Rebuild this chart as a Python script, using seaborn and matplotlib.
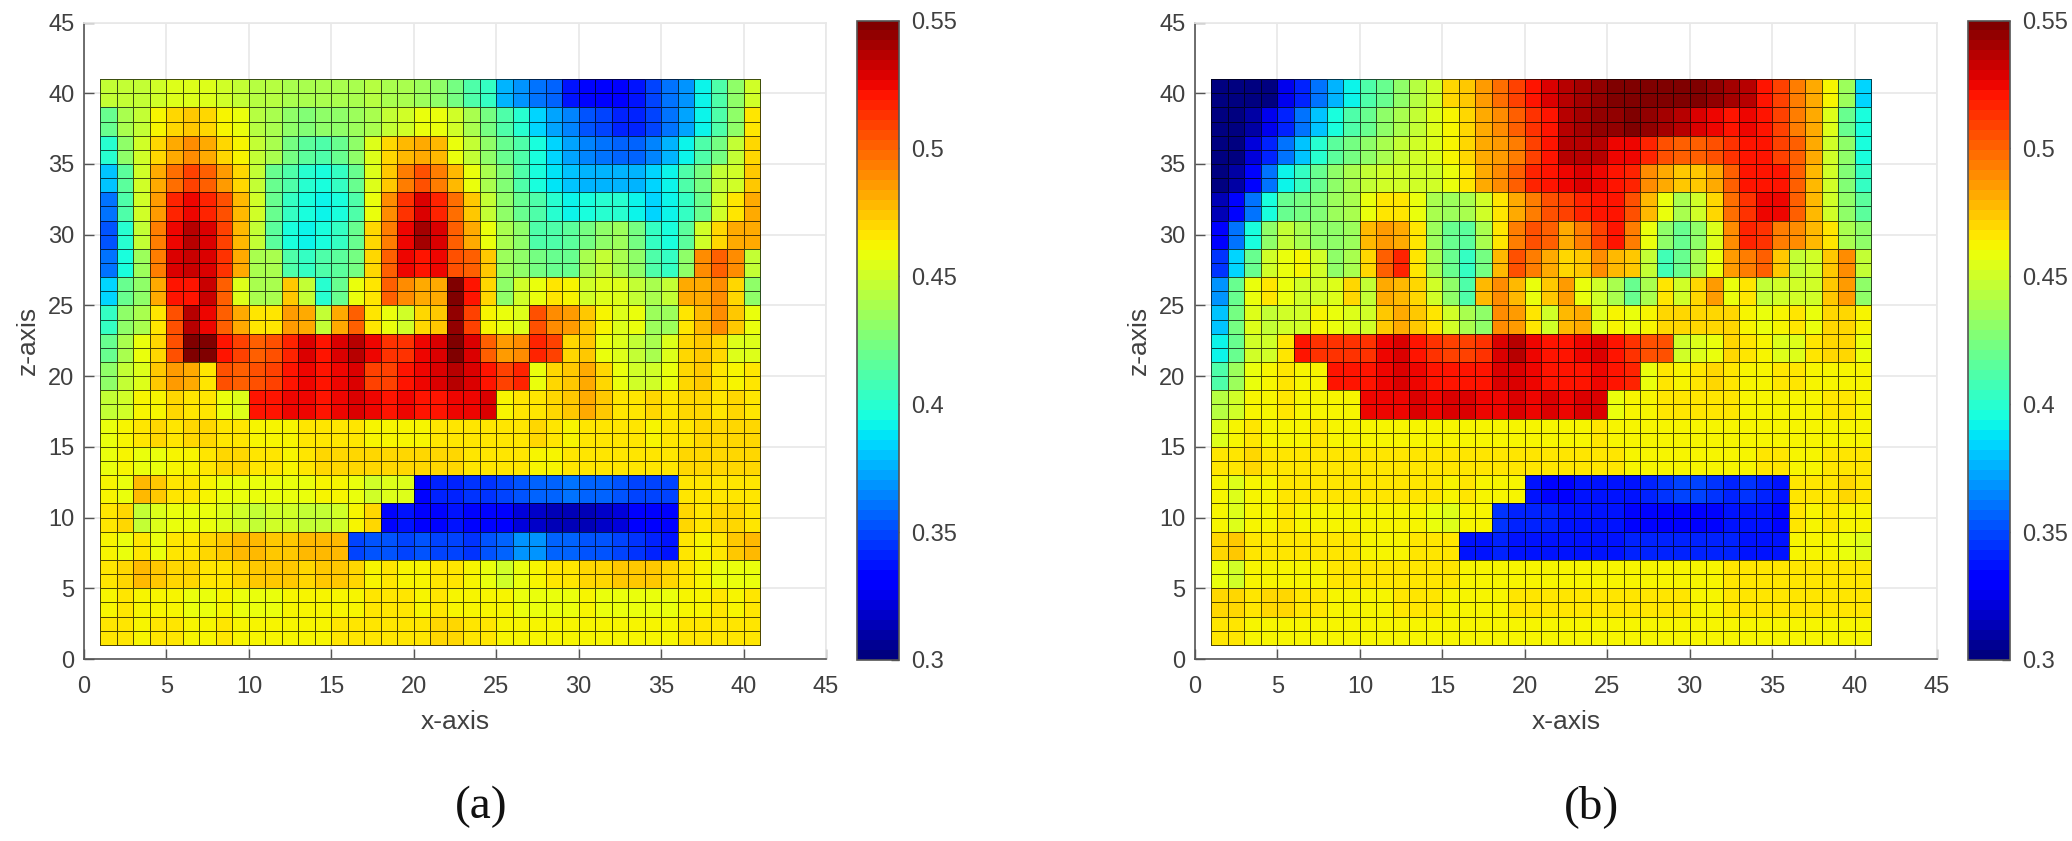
import numpy as np
import pandas as pd
import seaborn as sns
import matplotlib.pyplot as plt

# cell values in thousandths, top row first, each row covers two z steps
panel_a = [
    [445,448,448,452,453,454,453,450,448,443,442,440,437,438,438,440,441,440,440,436,430,425,412,403,378,370,362,355,339,334,331,331,339,347,362,370,390,410,430,452],
    [420,440,447,464,470,474,468,461,457,443,437,430,428,430,430,435,440,445,452,460,458,450,440,425,410,400,385,372,365,352,347,342,340,350,360,372,390,410,430,465],
    [400,430,450,470,483,490,483,468,462,448,437,425,415,410,418,432,455,468,478,480,476,460,445,430,420,410,395,385,372,365,360,358,357,365,375,390,410,425,445,468],
    [380,415,450,482,497,508,500,487,468,445,420,410,400,397,402,418,455,475,495,505,495,478,460,440,428,410,395,388,382,378,375,375,378,385,393,410,425,445,452,473],
    [360,410,450,487,517,525,518,506,478,450,420,405,397,392,395,410,458,488,513,528,516,497,475,447,430,420,410,400,393,396,400,398,392,385,392,405,420,450,465,480],
    [352,400,445,492,523,535,528,510,478,447,415,397,392,397,405,420,468,495,525,540,528,500,483,460,440,430,410,410,415,425,430,435,425,405,397,415,450,470,480,482],
    [360,395,435,493,528,534,530,514,480,440,440,410,405,410,417,425,470,500,525,522,525,507,503,473,435,430,425,420,420,440,445,440,430,410,405,430,488,503,490,445],
    [385,420,430,482,520,522,533,500,456,440,440,475,445,400,420,458,465,503,488,480,483,548,519,470,432,450,460,466,462,450,455,455,445,440,445,480,480,490,470,430],
    [405,430,440,465,505,535,525,500,480,465,465,487,480,445,480,500,465,460,452,470,475,545,510,462,458,456,505,490,485,475,462,456,460,435,435,465,478,490,472,458],
    [418,440,458,470,505,550,550,519,510,503,506,515,527,520,530,536,523,512,512,524,528,550,527,500,487,490,515,510,470,475,458,455,445,440,455,470,475,470,455,453],
    [430,445,456,472,485,480,465,506,503,506,510,519,525,519,523,527,510,510,519,523,529,538,527,520,510,515,460,470,475,480,468,458,450,452,460,470,472,465,462,465],
    [448,452,463,463,470,467,465,460,456,520,522,526,526,522,526,528,526,522,526,519,522,526,526,527,462,465,467,470,475,480,475,465,465,468,465,470,468,465,468,465],
    [458,462,467,469,467,469,468,467,465,462,461,463,465,467,466,465,464,463,462,463,465,467,467,466,465,467,468,466,463,465,466,466,465,463,465,467,468,469,468,468],
    [460,462,457,457,462,464,466,468,470,465,465,464,467,468,470,470,471,469,468,471,469,469,467,465,465,465,464,463,467,467,465,465,465,465,465,468,470,470,468,471],
    [462,458,478,475,465,465,462,458,459,460,458,457,460,463,462,460,452,453,455,335,340,342,345,345,347,352,357,358,359,357,357,352,350,347,347,465,465,467,465,465],
    [465,470,448,455,460,457,457,455,450,447,450,452,447,445,452,462,470,333,338,331,335,337,335,333,330,320,316,314,312,315,318,320,328,330,330,468,465,468,468,465],
    [462,458,465,458,465,467,470,472,478,478,472,475,477,478,476,347,352,354,350,352,348,347,345,352,358,368,368,356,358,354,352,349,345,342,338,465,463,466,472,476],
    [466,471,476,472,471,469,467,467,470,472,472,472,471,472,473,470,462,466,464,464,465,465,463,459,450,459,464,467,467,468,470,472,473,472,468,467,463,460,459,458],
    [464,465,462,462,462,458,458,462,460,458,460,461,462,462,462,463,466,465,466,464,465,462,462,461,462,460,458,460,458,462,460,458,460,458,460,462,464,465,464,465],
    [466,466,464,466,466,464,464,465,463,462,463,462,462,463,466,466,467,466,467,466,468,468,466,465,464,464,462,462,463,462,463,463,464,463,464,465,466,466,466,466],
]

panel_b = [
    [300,300,300,303,325,340,360,375,392,410,420,430,443,452,468,475,485,497,510,520,530,537,540,545,548,550,550,550,550,550,545,542,535,522,510,495,480,464,435,385],
    [300,302,310,325,340,360,380,395,410,420,430,440,445,455,462,470,480,490,500,512,522,535,540,545,545,548,545,540,535,530,525,522,525,520,510,495,480,455,420,395],
    [300,303,320,340,360,380,398,415,425,430,437,445,450,455,462,470,480,487,495,510,520,535,537,538,525,525,515,507,500,503,507,512,519,519,510,500,480,450,430,395],
    [300,310,335,360,390,405,420,430,440,445,450,450,450,452,460,465,480,490,500,515,520,525,530,525,520,515,488,480,472,475,483,500,519,522,519,503,478,452,428,405],
    [315,335,360,395,420,425,428,435,440,460,467,465,460,440,435,437,450,465,482,495,505,510,515,520,520,505,478,457,440,450,470,497,512,523,523,503,478,452,430,415],
    [330,360,395,430,445,440,432,430,435,477,487,480,467,435,420,415,440,465,495,505,500,482,495,510,520,495,460,432,418,430,456,488,518,512,495,488,478,466,440,430],
    [345,385,420,450,458,462,450,430,440,470,500,515,465,440,420,405,422,478,505,495,480,470,475,490,478,475,445,408,420,440,457,487,495,503,475,447,450,475,488,447],
    [370,420,460,465,457,452,450,455,470,448,480,477,470,450,430,410,478,490,478,457,475,485,460,450,440,420,440,465,450,470,485,457,465,448,450,450,452,475,485,430],
    [380,425,456,445,450,452,462,458,453,450,472,480,472,465,450,440,430,488,486,465,450,478,482,456,462,458,462,468,468,470,470,470,462,460,462,465,460,470,470,462],
    [393,420,450,450,467,519,514,514,514,514,525,528,522,514,510,510,514,530,536,526,520,519,526,530,522,514,506,506,450,455,460,468,467,462,455,455,465,470,470,458],
    [410,435,457,463,466,462,463,519,519,520,524,528,524,520,520,520,522,527,528,526,522,520,522,524,520,518,460,466,464,467,470,467,463,462,465,465,463,463,463,463],
    [442,452,463,464,466,464,463,462,463,525,526,526,527,525,527,527,526,526,527,526,527,526,527,527,460,462,463,465,466,466,466,465,464,464,463,463,464,465,465,464],
    [456,461,466,464,464,464,466,464,462,463,462,462,463,463,462,464,464,464,463,463,463,463,464,466,464,462,462,462,463,463,463,462,463,463,464,463,463,464,463,462],
    [465,466,468,467,467,467,467,467,466,465,466,466,467,466,466,467,467,466,466,466,467,467,466,465,465,464,464,463,462,462,462,462,463,466,466,464,464,466,465,465],
    [462,456,463,463,465,465,467,467,465,466,466,466,467,465,464,466,464,463,463,337,333,331,337,339,339,337,341,343,348,349,343,341,345,341,339,467,466,467,468,465],
    [463,455,463,464,466,464,464,464,463,463,462,462,461,457,456,462,463,343,341,341,341,339,339,339,337,333,332,329,328,331,335,337,339,339,335,465,463,466,463,463],
    [468,473,466,465,466,466,466,465,465,464,464,464,466,466,467,338,338,340,339,339,338,338,338,339,339,340,341,342,341,341,341,340,339,338,337,464,463,463,458,456],
    [460,452,462,464,464,463,463,466,465,466,466,466,465,465,466,463,464,464,463,463,463,462,463,463,462,463,463,462,462,463,464,465,465,466,465,466,466,466,466,466],
    [468,468,467,468,468,466,465,464,464,464,464,465,465,465,464,464,464,464,465,466,466,466,465,465,466,466,465,465,465,464,464,465,466,466,465,465,466,466,466,466],
    [467,466,463,463,464,464,464,464,463,463,463,463,463,463,463,463,463,463,463,463,463,464,464,464,464,464,463,464,464,463,463,464,464,464,464,463,463,463,463,463],
]

axis_ticks = [0, 5, 10, 15, 20, 25, 30, 35, 40, 45]
cbar_ticks = [0.3, 0.35, 0.4, 0.45, 0.5, 0.55]
cbar_labels = ['0.3', '0.35', '0.4', '0.45', '0.5', '0.55']
x_edges = list(range(1, 41))
z_edges = list(range(40, 0, -1))

W, H = 2072, 841
TXT = '#404040'


def px_box(left, top, right, bottom):
    return [left / W, 1 - bottom / H, (right - left) / W, (bottom - top) / H]


def draw_panel(fig, values, ax_box, cbar_box, letter, letter_x):
    ax = fig.add_axes(px_box(*ax_box))
    cax = fig.add_axes(px_box(*cbar_box))

    # every block of the table covers two z rows
    grid = np.repeat(np.array(values) / 1000, 2, axis=0)
    df = pd.DataFrame(grid, index=z_edges, columns=x_edges)
    sns.heatmap(df, ax=ax, cbar_ax=cax, cmap=plt.get_cmap('jet', 64), vmin=0.3, vmax=0.55,
                linewidths=0.7, linecolor='#000000b0', xticklabels=False, yticklabels=False)

    # heatmap cell 0 starts at x=1 and the top row ends at z=41
    ax.set_xlim(-1, 44)
    ax.set_ylim(41, -4)
    ax.set_xticks([t - 1 for t in axis_ticks], [str(t) for t in axis_ticks])
    ax.set_yticks([41 - t for t in axis_ticks], [str(t) for t in axis_ticks])
    ax.tick_params(direction='in', length=7, width=1, color='#555555', labelcolor=TXT,
                   labelsize=17, left=True, bottom=True)
    ax.tick_params(axis='x', pad=12)
    ax.tick_params(axis='y', pad=7)
    ax.set_axisbelow(True)
    ax.grid(True, color='#e8e8e8', linewidth=1.2)
    for side in ['top', 'right']:
        ax.spines[side].set_visible(True)
        ax.spines[side].set_color('#e8e8e8')
    for side in ['left', 'bottom']:
        ax.spines[side].set_visible(True)
        ax.spines[side].set_color('#555555')
        ax.spines[side].set_linewidth(1.2)
    ax.set_xlabel('x-axis', fontsize=19, color=TXT, labelpad=9)
    ax.set_ylabel('z-axis', fontsize=19, color=TXT, labelpad=6)

    cbar = ax.collections[0].colorbar
    cbar.set_ticks(cbar_ticks, labels=cbar_labels)
    cbar.ax.tick_params(direction='in', length=6, width=1, color='#555555', labelcolor=TXT,
                        labelsize=17, pad=9, right=True)
    cbar.outline.set_visible(True)
    cbar.outline.set_edgecolor('#555555')
    cbar.outline.set_linewidth(1.2)

    fig.text(letter_x / W, 1 - 807 / H, letter, fontsize=34, family='Liberation Serif',
             ha='center', va='center', color='#111111')


sns.set_theme(style='white')
plt.rcParams['font.family'] = ['Liberation Sans', 'DejaVu Sans']

fig = plt.figure(figsize=(W / 100, H / 100), dpi=100, facecolor='white')
draw_panel(fig, panel_a, (84, 22.5, 826, 659), (857, 20.5, 899, 660), '(a)', 481)
draw_panel(fig, panel_b, (1195, 22.5, 1937, 659), (1968, 20.5, 2010, 660), '(b)', 1592)
fig.savefig('out.png', dpi=100)
